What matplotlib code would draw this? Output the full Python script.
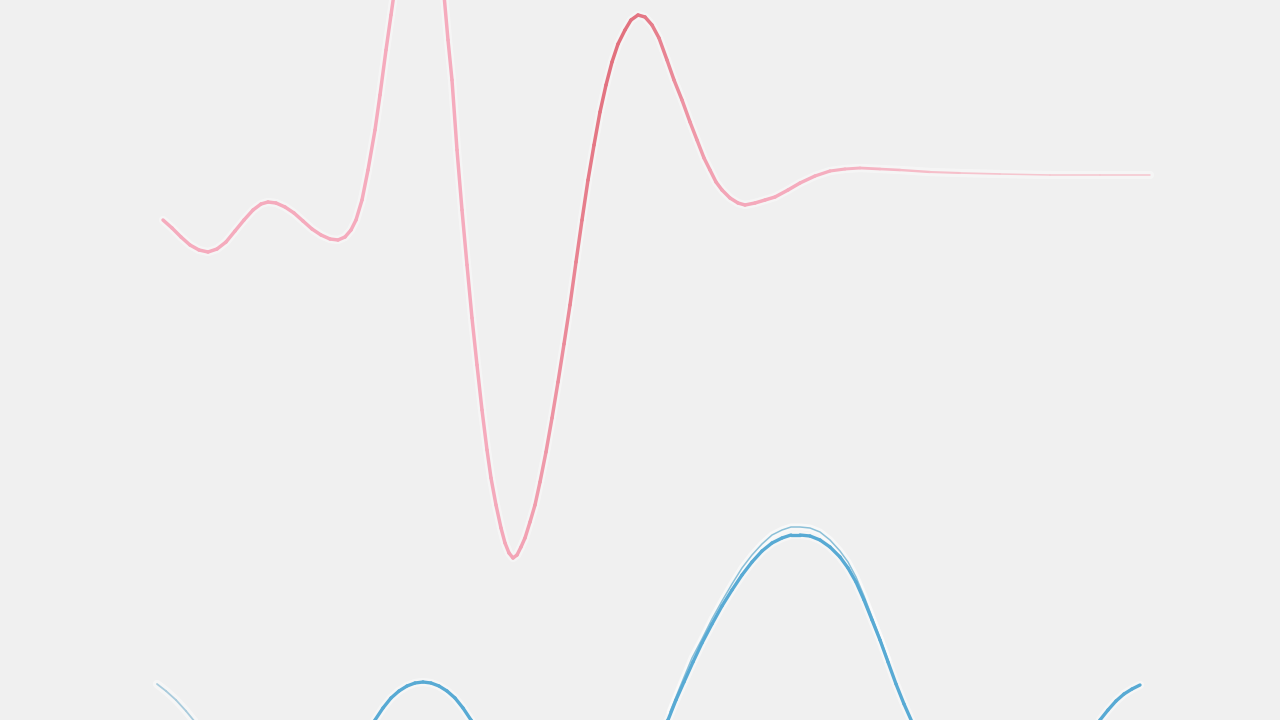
import matplotlib
matplotlib.use("Agg")
import matplotlib.pyplot as plt
import numpy as np
from matplotlib.collections import LineCollection
from matplotlib.colors import to_rgb

# red damped wave (time, amplitude)
red_t = [1.63, 1.72, 1.81, 1.90, 1.99, 2.08, 2.17, 2.26, 2.35, 2.44,
         2.53, 2.61, 2.68, 2.76, 2.85, 2.94, 3.03, 3.12, 3.21, 3.30,
         3.38, 3.45, 3.51, 3.56, 3.62, 3.68, 3.75, 3.80, 3.86, 3.91,
         3.96, 4.02, 4.10, 4.20, 4.30, 4.38, 4.44, 4.48, 4.52, 4.57,
         4.62, 4.67, 4.72, 4.77, 4.82, 4.87, 4.91, 4.96, 5.01, 5.05,
         5.09, 5.13, 5.17, 5.21, 5.25, 5.30, 5.35, 5.40, 5.46, 5.52,
         5.58, 5.64, 5.70, 5.76, 5.82, 5.88, 5.94, 6.00, 6.06, 6.12,
         6.18, 6.25, 6.31, 6.38, 6.45, 6.52, 6.59, 6.67, 6.74, 6.82,
         6.90, 6.97, 7.04, 7.10, 7.16, 7.22, 7.30, 7.38, 7.45, 7.55,
         7.65, 7.75, 7.88, 8.00, 8.15, 8.30, 8.45, 8.60, 8.80, 9.00,
         9.30, 9.60, 10.00, 10.50, 11.00, 11.50]
red_y = [1.40, 1.32, 1.23, 1.15, 1.10, 1.08, 1.11, 1.18, 1.29, 1.40,
         1.50, 1.56, 1.58, 1.57, 1.53, 1.47, 1.39, 1.31, 1.25, 1.21,
         1.20, 1.23, 1.30, 1.40, 1.60, 1.90, 2.30, 2.65, 3.10, 3.45,
         3.80, 4.10, 4.32, 4.40, 4.32, 4.05, 3.65, 3.20, 2.80, 2.10,
         1.50, 0.95, 0.42, -0.05, -0.50, -0.90, -1.18, -1.45, -1.68, -1.83,
         -1.93, -1.98, -1.95, -1.87, -1.78, -1.62, -1.45, -1.22, -0.92, -0.58,
         -0.22, 0.16, 0.55, 0.98, 1.40, 1.80, 2.15, 2.48, 2.75, 2.98,
         3.16, 3.30, 3.40, 3.45, 3.43, 3.35, 3.22, 3.00, 2.80, 2.60,
         2.38, 2.20, 2.02, 1.90, 1.78, 1.70, 1.62, 1.57, 1.55, 1.57,
         1.60, 1.63, 1.70, 1.77, 1.84, 1.89, 1.91, 1.92, 1.91, 1.90,
         1.88, 1.87, 1.86, 1.85, 1.85, 1.85]

# blue wave, mostly running below the frame
blue_t = [1.57, 1.66, 1.76, 1.86, 1.95, 2.40, 2.85, 3.30,
          3.75, 3.83, 3.91, 3.99, 4.07, 4.15, 4.23, 4.31, 4.39, 4.47,
          4.55, 4.63, 4.71, 5.20, 5.70, 6.20,
          6.68, 6.76, 6.84, 6.93, 7.02, 7.12, 7.22, 7.32, 7.42, 7.52,
          7.62, 7.72, 7.82, 7.91, 8.00, 8.10, 8.20, 8.30, 8.40, 8.48,
          8.56, 8.64, 8.72, 8.80, 8.88, 8.96, 9.04, 9.12,
          9.60, 10.10, 10.60,
          11.00, 11.08, 11.16, 11.24, 11.32, 11.40]
blue_y = [-3.24, -3.31, -3.40, -3.51, -3.62, -4.30, -4.45, -4.30,
          -3.60, -3.48, -3.38, -3.31, -3.26, -3.23, -3.22, -3.23, -3.26, -3.31,
          -3.38, -3.48, -3.60, -4.30, -4.60, -4.30,
          -3.60, -3.40, -3.22, -3.02, -2.83, -2.64, -2.46, -2.30, -2.15, -2.02,
          -1.91, -1.83, -1.78, -1.75, -1.75, -1.76, -1.80, -1.87, -1.97, -2.08,
          -2.22, -2.40, -2.60, -2.80, -3.02, -3.24, -3.44, -3.62,
          -4.40, -4.70, -4.40,
          -3.60, -3.50, -3.41, -3.34, -3.29, -3.25]

# thin echo of the blue wave around its big crest
echo_t = [6.70, 6.80, 6.92, 7.02, 7.12, 7.22, 7.32, 7.42, 7.52, 7.62,
          7.72, 7.82, 7.91, 8.00, 8.10, 8.20, 8.30, 8.40, 8.48, 8.56,
          8.64, 8.72, 8.80, 8.88]
echo_y = [-3.52, -3.27, -2.98, -2.79, -2.59, -2.41, -2.24, -2.08, -1.95, -1.84,
          -1.75, -1.70, -1.67, -1.67, -1.68, -1.72, -1.80, -1.91, -2.02, -2.17,
          -2.36, -2.57, -2.78, -3.00]

BG = "#f0f0f0"


def gradient_line(ax, x, y, widths, colors, z):
    pts = np.column_stack([x, y]).reshape(-1, 1, 2)
    segs = np.concatenate([pts[:-1], pts[1:]], axis=1)
    lc = LineCollection(segs, linewidths=widths, colors=colors,
                        capstyle="round", joinstyle="round", zorder=z)
    ax.add_collection(lc)


fig = plt.figure(figsize=(12.8, 7.2), dpi=100, facecolor=BG)
ax = fig.add_axes([0, 0, 1, 1])
ax.set_facecolor(BG)
ax.set_xlim(0, 12.8)
ax.set_ylim(-3.6, 3.6)
ax.axis("off")

rx = np.array(red_t)
ry = np.array(red_y)
mid = (rx[:-1] + rx[1:]) / 2

# colour: pink, reddening around the second crest, paler tail
pink = np.array(to_rgb("#f5abbd"))
red = np.array(to_rgb("#e2717e"))
pale = np.array(to_rgb("#f6c6cf"))
w = np.exp(-((mid - 6.2) / 0.7) ** 2)
cols = pink[None, :] * (1 - w[:, None]) + red[None, :] * w[:, None]
tail = np.clip((mid - 8.0) / 2.0, 0, 1)
cols = cols * (1 - tail[:, None]) + pale[None, :] * tail[:, None]
widths = 2.5 - 1.4 * tail

ax.plot(rx, ry, color="white", lw=6, alpha=0.4, solid_capstyle="round", zorder=1)
gradient_line(ax, rx, ry, widths, cols, 2)

# blue wave
bx = np.array(blue_t)
by = np.array(blue_y)
ax.plot(bx, by, color="white", lw=6, alpha=0.45, solid_capstyle="round", zorder=1)
ax.plot(echo_t, echo_y, color="white", lw=5, alpha=0.6, solid_capstyle="round", zorder=1)
bmid = (bx[:-1] + bx[1:]) / 2
light = np.array(to_rgb("#a9cbdc"))
blue = np.array(to_rgb("#58aad4"))
k = np.clip((bmid - 2.2) / 1.6, 0, 1)
bcols = light[None, :] * (1 - k[:, None]) + blue[None, :] * k[:, None]
bw = 1.3 + 1.1 * k
gradient_line(ax, bx, by, bw, bcols, 3)
ax.plot(echo_t, echo_y, color="#8cc0d8", lw=1.1, solid_capstyle="round", zorder=2)

fig.savefig("out.png", dpi=100, facecolor=BG)
